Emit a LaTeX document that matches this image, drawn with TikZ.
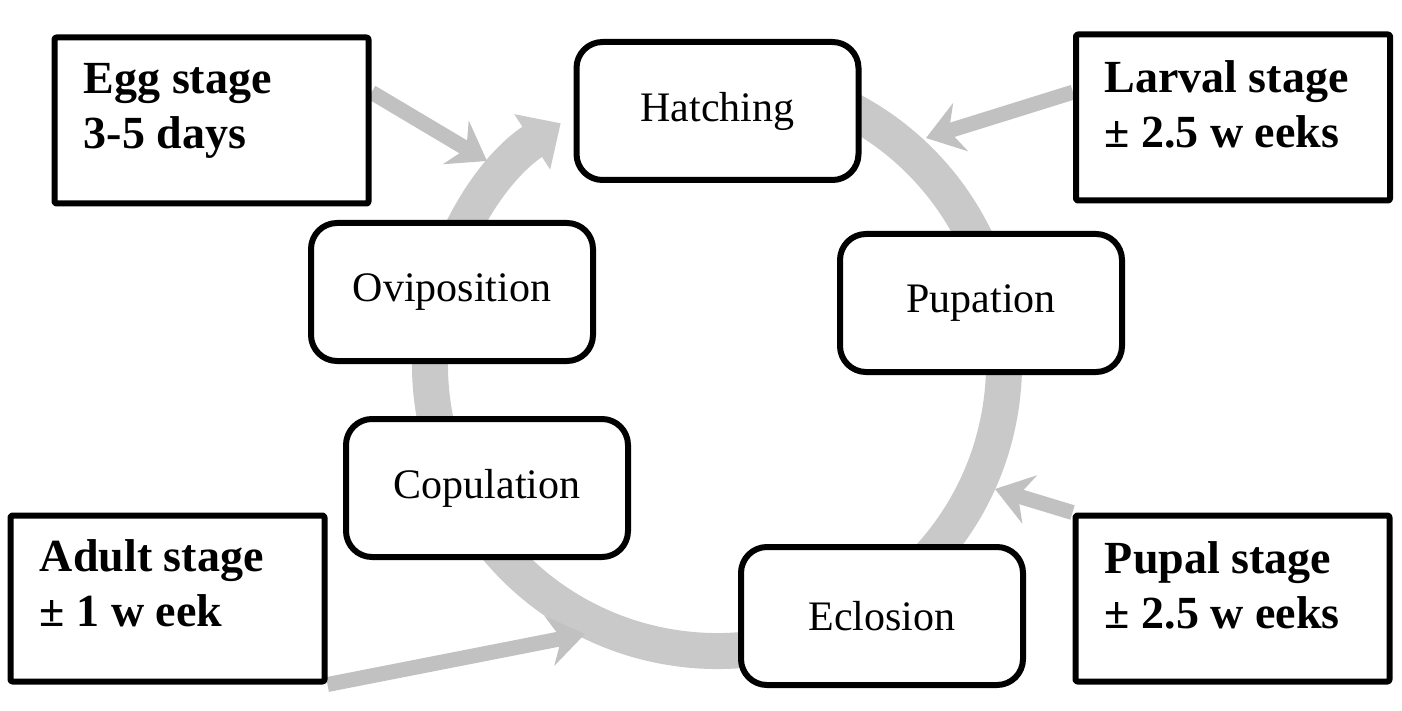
\documentclass[tikz,border=0pt]{standalone}
\usepackage{fontspec}
\setmainfont{Liberation Serif}
\usetikzlibrary{arrows.meta,positioning,backgrounds}
\definecolor{Cgray}{RGB}{201,201,201}
\definecolor{Agray}{RGB}{193,193,193}

\begin{document}
\begin{tikzpicture}[x=0.5pt,y=-0.5pt,line join=round,
  phase/.style={draw,line width=3pt,rounded corners=13pt,fill=white,minimum width=141pt,minimum height=69pt,inner sep=0pt,font=\fontsize{21}{24}\selectfont},
  stagebox/.style={draw,line width=3pt,rounded corners=1pt,fill=white,minimum width=157pt,minimum height=83pt,inner sep=0pt},
  stagetext/.style={inner sep=0pt,align=left,font=\bfseries\fontsize{23}{27.5}\selectfont},
  cyclearrow/.style={draw=Cgray,line width=18pt,-{Triangle[width=32pt,length=17pt]}},
  feedarrow/.style={draw=Agray,line width=7.5pt,-{Stealth[width=25pt,length=18pt,inset=6pt]}}]
\path[use as bounding box] (0,0) rectangle (1402,711);
% life cycle steps
\node[phase] (hatching) at (717.5,111) {Hatching};
\node[phase] (pupation) at (981,303) {Pupation};
\node[phase] (eclosion) at (882,616) {Eclosion};
\node[phase] (copulation) at (487,488) {Copulation};
\node[phase] (oviposition) at (452,292) {Oviposition};
% stage boxes
\node[stagebox] (egg) at (211.5,120.5) {};
\node[stagebox] (larval) at (1233,117.5) {};
\node[stagebox] (adult) at (167.5,598.5) {};
\node[stagebox] (pupal) at (1232.5,598.5) {};
\node[stagetext,below right=14pt and 16pt of egg.north west] (eggtext) {Egg stage\\3-5 days};
\node[stagetext,below right=14.5pt and 15.5pt of larval.north west] (larvaltext) {Larval stage\\± 2.5 w eeks};
\node[stagetext,below right=13.5pt and 16pt of adult.north west] (adulttext) {Adult stage\\± 1 w eek};
\node[stagetext,below right=14.5pt and 16pt of pupal.north west] (pupaltext) {Pupal stage\\± 2.5 w eeks};
% arrow tips on the cycle
\coordinate (hub) at (717,364);
\coordinate (eggtip) at (487,161);
\coordinate (larvaltip) at (926,138);
\coordinate (adulttip) at (585,634);
\coordinate (pupaltip) at (995,489);
\begin{scope}[on background layer]
\draw[cyclearrow] (hub) ++(-80:287) arc[start angle=-80,end angle=237,radius=287];
\draw[feedarrow] (egg.10) -- (eggtip);
\draw[feedarrow] (larval.171) -- (larvaltip);
\draw[feedarrow] (adult.south east) -- (adulttip);
\draw[feedarrow] (pupal.north west) -- (pupaltip);
\end{scope}
\end{tikzpicture}
\end{document}
